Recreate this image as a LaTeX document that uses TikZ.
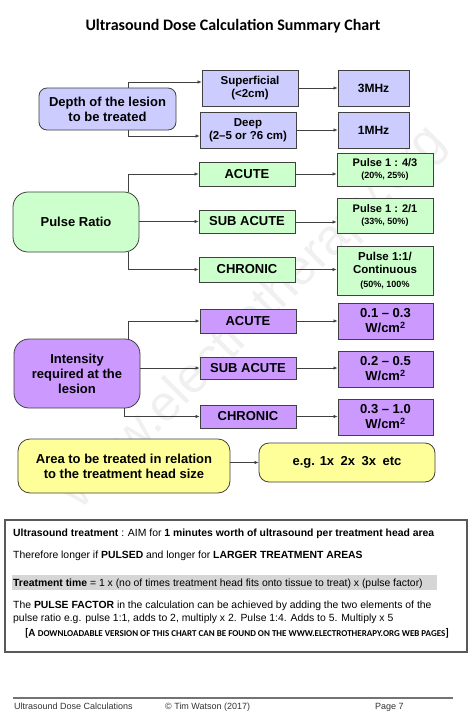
\documentclass[tikz,border=0pt]{standalone}
\usepackage{fontspec}
\setmainfont{Liberation Sans}
\newfontfamily\carlito{Carlito}
\usetikzlibrary{arrows.meta}
\definecolor{lav}{HTML}{CCCCFF}
\definecolor{grn}{HTML}{CCFFCC}
\definecolor{pur}{HTML}{CC99FF}
\definecolor{yel}{HTML}{FFFF99}
\definecolor{edge}{HTML}{404040}
\tikzset{
  box/.style={draw=edge, line width=0.8pt, inner sep=1pt, align=center,
    font=\bfseries\fontsize{13}{15}\selectfont},
  midbox/.style={box, font=\bfseries\fontsize{11.5}{13.5}\selectfont},
  conn/.style={draw=edge, line width=0.7pt, -{Latex[length=4pt,width=3.5pt]}},
  txt/.style={anchor=base west, inner sep=0, font=\fontsize{10.4}{13}\selectfont},
  foot/.style={anchor=base west, inner sep=0, text=black!80, font=\fontsize{9}{11}\selectfont}
}
\begin{document}
\begin{tikzpicture}[x=1pt,y=-1pt]
\useasboundingbox (0,0) rectangle (474,716);
\fill[white] (0,0) rectangle (474,716);
% watermark
\node[rotate=45, text=black!6, font=\fontsize{50}{50}\selectfont] (wm) at (255,318) {www.electrotherapy.org};
% title
\node[font=\carlito\bfseries\fontsize{16}{18}\selectfont] (title) at (233,26) {Ultrasound Dose Calculation Summary Chart};
% depth group
\node[box, fill=lav, rounded corners=8pt, minimum width=137pt, minimum height=42pt] (depth) at (107.5,109) {Depth of the lesion\\to be treated};
\node[midbox, fill=lav, minimum width=96pt, minimum height=36pt] (sup) at (250,88) {Superficial\\(<2cm)};
\node[midbox, fill=lav, minimum width=96pt, minimum height=36pt] (deep) at (248,130) {Deep\\(2–5 or ?6 cm)};
\node[box, fill=lav, font=\bfseries\fontsize{12}{14}\selectfont, minimum width=71pt, minimum height=36pt] (mhz3) at (373.5,88) {3MHz};
\node[box, fill=lav, font=\bfseries\fontsize{12}{14}\selectfont, minimum width=71pt, minimum height=36pt] (mhz1) at (373.5,130) {1MHz};
\draw[conn] ([xshift=20.5pt]depth.north) |- ([yshift=6pt]sup.west);
\draw[conn] ([xshift=20.5pt]depth.south) |- ([yshift=-6pt]deep.west);
\draw[conn] (sup.east) -- (sup.east -| mhz3.west);
\draw[conn] (deep.east) -- (deep.east -| mhz1.west);
% pulse group
\node[box, fill=grn, rounded corners=15pt, minimum width=126pt, minimum height=60pt] (pr) at (76,222) {Pulse Ratio};
\node[box, fill=grn, minimum width=96pt, minimum height=24pt] (ag) at (247,174) {ACUTE};
\node[box, fill=grn, minimum width=96pt, minimum height=23pt] (sg) at (247,221.5) {SUB ACUTE};
\node[box, fill=grn, minimum width=96pt, minimum height=25pt] (cg) at (247,269.5) {CHRONIC};
\node[box, fill=grn, font=\bfseries\fontsize{11}{13}\selectfont, minimum width=96pt, minimum height=33pt] (p1) at (385,169.5) {Pulse 1 : 4/3\\[-1pt]{\fontsize{9}{11}\selectfont (20\%, 25\%)}};
\node[box, fill=grn, font=\bfseries\fontsize{11}{13}\selectfont, minimum width=96pt, minimum height=35pt] (p2) at (385,215.5) {Pulse 1 : 2/1\\[-1pt]{\fontsize{9}{11}\selectfont (33\%, 50\%)}};
\node[box, fill=grn, font=\bfseries\fontsize{11.5}{13.5}\selectfont, minimum width=96pt, minimum height=49pt] (p3) at (385,270.5) {Pulse 1:1/\\Continuous\\{\fontsize{9}{12}\selectfont (50\%, 100\%}};
\draw[conn] ([xshift=52pt]pr.north) |- (ag.west);
\draw[conn] (sg.west -| pr.east) -- (sg.west);
\draw[conn] ([xshift=52pt]pr.south) |- (cg.west);
\draw[conn] (ag.east) -- (ag.east -| p1.west);
\draw[conn] ([yshift=-0.5pt]sg.east) -- ([yshift=-0.5pt]sg.east -| p2.west);
\draw[conn] (cg.east) -- (cg.east -| p3.west);
% intensity group
\node[box, fill=pur, rounded corners=15pt, minimum width=126pt, minimum height=69pt] (ib) at (77,373.5) {Intensity\\required at the\\lesion};
\node[box, fill=pur, minimum width=96pt, minimum height=24pt] (ap) at (248,321) {ACUTE};
\node[box, fill=pur, minimum width=96pt, minimum height=22pt] (sp) at (248,368) {SUB ACUTE};
\node[box, fill=pur, minimum width=96pt, minimum height=23pt] (cp) at (248,416.5) {CHRONIC};
\node[box, fill=pur, minimum width=95pt, minimum height=36pt] (w1) at (385.5,321) {0.1 – 0.3\\W/cm\textsuperscript{2}};
\node[box, fill=pur, minimum width=95pt, minimum height=36pt] (w2) at (385.5,369) {0.2 – 0.5\\W/cm\textsuperscript{2}};
\node[box, fill=pur, minimum width=95pt, minimum height=36pt] (w3) at (385.5,417) {0.3 – 1.0\\W/cm\textsuperscript{2}};
\draw[conn] ([xshift=51pt]ib.north) |- (ap.west);
\draw[conn] (sp.west -| ib.east) -- (sp.west);
\draw[conn] ([xshift=47pt]ib.south) |- (cp.west);
\draw[conn] (ap.east) -- (ap.east -| w1.west);
\draw[conn] (sp.east) -- (sp.east -| w2.west);
\draw[conn] (cp.east) -- (cp.east -| w3.west);
% area group
\node[box, fill=yel, rounded corners=12pt, minimum width=212pt, minimum height=54pt] (area) at (124,466) {Area to be treated in relation\\to the treatment head size};
\node[box, fill=yel, rounded corners=10pt, minimum width=176pt, minimum height=39pt] (eg) at (347,462.5) {e.g. 1x\enspace 2x\enspace 3x\enspace etc};
\draw[conn] (eg.west -| area.east) -- (eg.west);
% info box
\draw[draw=black!65, line width=2pt] (5,520) rectangle (467,652);
\fill[black!16] (12,575) rectangle (437,590);
\node[txt] (l1) at (13,536) {\textbf{Ultrasound treatment} : AIM for \textbf{1 minutes worth of ultrasound per treatment head area}};
\node[txt] (l2) at (13,558) {Therefore longer if \textbf{PULSED} and longer for \textbf{LARGER TREATMENT AREAS}};
\node[txt] (l3) at (13,586) {\textbf{Treatment time} = 1 x (no of times treatment head fits onto tissue to treat) x (pulse factor)};
\node[txt] (l4) at (13,608) {The \textbf{PULSE FACTOR} in the calculation can be achieved by adding the two elements of the};
\node[txt] (l5) at (13,621) {pulse ratio e.g. pulse 1:1, adds to 2, multiply x 2. Pulse 1:4. Adds to 5. Multiply x 5};
\node[anchor=base, inner sep=0, font=\carlito\bfseries] (l6) at (237,636) {\fontsize{11}{12}\selectfont [A \fontsize{9}{12}\selectfont DOWNLOADABLE VERSION OF THIS CHART CAN BE FOUND ON THE WWW.ELECTROTHERAPY.ORG WEB PAGES\fontsize{11}{12}\selectfont]};
% footer
\draw[black!55, line width=1.3pt] (13,698) -- (453,698);
\node[foot] (f1) at (14,709) {Ultrasound Dose Calculations};
\node[foot] (f2) at (165,709) {© Tim Watson (2017)};
\node[foot] (f3) at (375,709) {Page 7};
\end{tikzpicture}
\end{document}
